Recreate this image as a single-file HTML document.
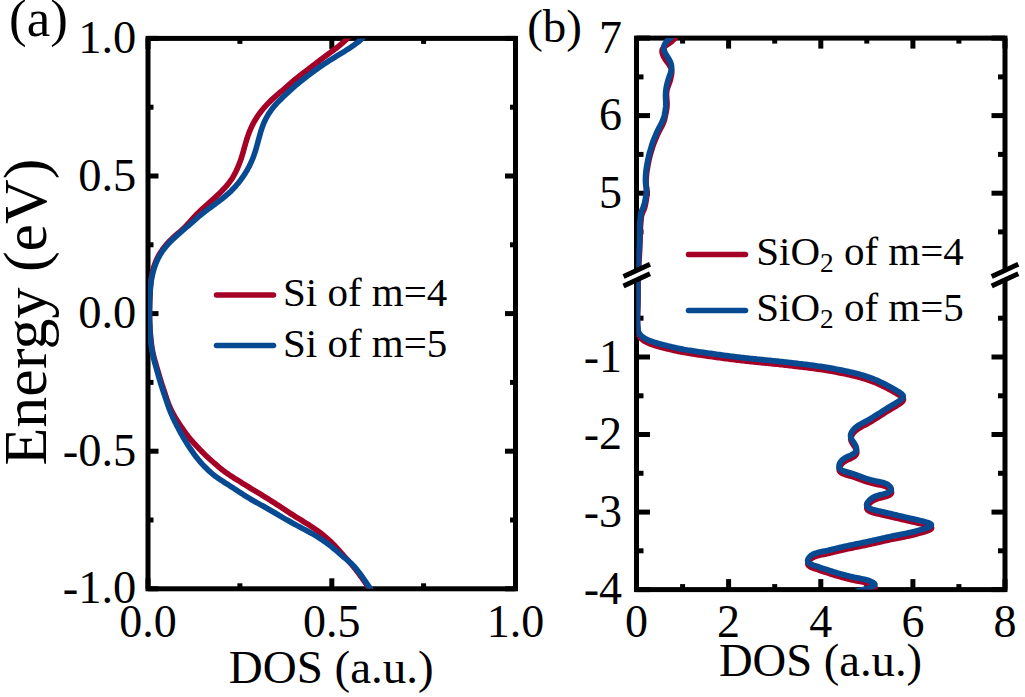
<!DOCTYPE html>
<html><head><meta charset="utf-8"><title>DOS</title>
<style>html,body{margin:0;padding:0;background:#fff;width:1025px;height:697px;overflow:hidden}svg{display:block}</style>
</head><body>
<svg width="1025" height="697" viewBox="0 0 1025 697">
<defs><clipPath id="ca"><rect x="148.0" y="38.4" width="367.5" height="550.4"/></clipPath>
<clipPath id="cbu"><rect x="636.5" y="38.1" width="368.5" height="235.6"/></clipPath>
<clipPath id="cbl"><rect x="636.5" y="276.5" width="368.5" height="313.1"/></clipPath></defs>
<rect width="1025" height="697" fill="#fff"/>
<g font-family='"Liberation Serif", serif' fill="#000">
<g stroke="#000" stroke-width="5.0" fill="none">
<rect x="148.0" y="38.4" width="367.5" height="550.4" stroke-linejoin="miter"/>
<line x1="148.0" y1="588.8" x2="148.0" y2="578.3"/><line x1="148.0" y1="38.4" x2="148.0" y2="48.9"/><line x1="331.8" y1="588.8" x2="331.8" y2="578.3"/><line x1="331.8" y1="38.4" x2="331.8" y2="48.9"/><line x1="515.5" y1="588.8" x2="515.5" y2="578.3"/><line x1="515.5" y1="38.4" x2="515.5" y2="48.9"/><line x1="239.9" y1="588.8" x2="239.9" y2="583.3"/><line x1="239.9" y1="38.4" x2="239.9" y2="43.9"/><line x1="423.6" y1="588.8" x2="423.6" y2="583.3"/><line x1="423.6" y1="38.4" x2="423.6" y2="43.9"/><line x1="148.0" y1="38.4" x2="158.5" y2="38.4"/><line x1="515.5" y1="38.4" x2="505.0" y2="38.4"/><line x1="148.0" y1="176.0" x2="158.5" y2="176.0"/><line x1="515.5" y1="176.0" x2="505.0" y2="176.0"/><line x1="148.0" y1="313.6" x2="158.5" y2="313.6"/><line x1="515.5" y1="313.6" x2="505.0" y2="313.6"/><line x1="148.0" y1="451.2" x2="158.5" y2="451.2"/><line x1="515.5" y1="451.2" x2="505.0" y2="451.2"/><line x1="148.0" y1="588.8" x2="158.5" y2="588.8"/><line x1="515.5" y1="588.8" x2="505.0" y2="588.8"/><line x1="148.0" y1="107.2" x2="153.5" y2="107.2"/><line x1="515.5" y1="107.2" x2="510.0" y2="107.2"/><line x1="148.0" y1="244.8" x2="153.5" y2="244.8"/><line x1="515.5" y1="244.8" x2="510.0" y2="244.8"/><line x1="148.0" y1="382.4" x2="153.5" y2="382.4"/><line x1="515.5" y1="382.4" x2="510.0" y2="382.4"/><line x1="148.0" y1="520.0" x2="153.5" y2="520.0"/><line x1="515.5" y1="520.0" x2="510.0" y2="520.0"/>
</g>
<g clip-path="url(#ca)" fill="none" stroke-width="5.6" stroke-linejoin="round">
<path d="M349.31,36.25 L348.32,37.34 L347.31,38.41 L346.28,39.47 L345.23,40.51 L344.15,41.53 L343.06,42.54 L341.95,43.52 L340.82,44.49 L339.67,45.44 L338.51,46.37 L337.33,47.29 L336.14,48.20 L334.95,49.10 L333.74,49.99 L332.53,50.88 L331.32,51.77 L330.11,52.65 L328.90,53.54 L327.70,54.44 L326.50,55.33 L325.30,56.23 L324.10,57.13 L322.91,58.04 L321.72,58.95 L320.53,59.85 L319.34,60.76 L318.15,61.67 L316.96,62.58 L315.77,63.49 L314.58,64.40 L313.39,65.31 L312.20,66.22 L311.01,67.13 L309.82,68.04 L308.63,68.95 L307.44,69.86 L306.25,70.76 L305.06,71.67 L303.87,72.58 L302.68,73.49 L301.49,74.40 L300.31,75.32 L299.13,76.24 L297.96,77.17 L296.79,78.10 L295.63,79.04 L294.48,80.00 L293.34,80.96 L292.20,81.94 L291.07,82.92 L289.94,83.90 L288.82,84.89 L287.69,85.88 L286.57,86.86 L285.44,87.85 L284.30,88.82 L283.16,89.79 L282.02,90.76 L280.87,91.72 L279.73,92.69 L278.58,93.65 L277.44,94.62 L276.31,95.60 L275.18,96.59 L274.07,97.58 L272.96,98.59 L271.87,99.62 L270.79,100.65 L269.72,101.70 L268.67,102.77 L267.63,103.84 L266.60,104.94 L265.60,106.04 L264.60,107.16 L263.63,108.30 L262.67,109.45 L261.73,110.62 L260.80,111.80 L259.90,112.99 L259.01,114.20 L258.14,115.42 L257.30,116.65 L256.47,117.90 L255.67,119.17 L254.90,120.45 L254.15,121.74 L253.43,123.05 L252.74,124.37 L252.07,125.71 L251.44,127.07 L250.83,128.43 L250.24,129.81 L249.67,131.19 L249.12,132.59 L248.60,133.99 L248.09,135.40 L247.60,136.81 L247.12,138.23 L246.67,139.66 L246.23,141.09 L245.80,142.52 L245.39,143.96 L244.98,145.41 L244.58,146.85 L244.18,148.29 L243.78,149.74 L243.38,151.18 L242.97,152.62 L242.56,154.06 L242.13,155.50 L241.69,156.93 L241.23,158.36 L240.76,159.78 L240.27,161.19 L239.75,162.59 L239.21,163.99 L238.65,165.38 L238.07,166.76 L237.47,168.14 L236.86,169.50 L236.22,170.86 L235.57,172.21 L234.89,173.54 L234.19,174.86 L233.47,176.17 L232.71,177.45 L231.92,178.71 L231.09,179.96 L230.23,181.18 L229.34,182.37 L228.43,183.55 L227.48,184.71 L226.52,185.86 L225.53,186.98 L224.53,188.10 L223.51,189.20 L222.48,190.28 L221.44,191.35 L220.38,192.42 L219.31,193.47 L218.24,194.51 L217.15,195.55 L216.06,196.58 L214.96,197.60 L213.86,198.62 L212.75,199.63 L211.65,200.64 L210.53,201.64 L209.42,202.64 L208.30,203.64 L207.19,204.64 L206.07,205.64 L204.96,206.64 L203.84,207.64 L202.73,208.65 L201.63,209.65 L200.53,210.67 L199.44,211.69 L198.36,212.73 L197.29,213.77 L196.23,214.83 L195.19,215.90 L194.16,216.98 L193.15,218.08 L192.14,219.19 L191.15,220.31 L190.15,221.42 L189.15,222.53 L188.14,223.64 L187.13,224.74 L186.10,225.82 L185.06,226.89 L183.99,227.93 L182.91,228.96 L181.81,229.98 L180.70,230.98 L179.58,231.98 L178.46,232.97 L177.33,233.95 L176.20,234.94 L175.08,235.93 L173.96,236.93 L172.85,237.93 L171.75,238.95 L170.67,239.99 L169.60,241.04 L168.56,242.11 L167.54,243.20 L166.56,244.32 L165.60,245.46 L164.66,246.63 L163.75,247.81 L162.87,249.02 L162.01,250.24 L161.17,251.48 L160.36,252.74 L159.58,254.01 L158.83,255.31 L158.12,256.62 L157.44,257.95 L156.79,259.30 L156.18,260.67 L155.60,262.04 L155.06,263.44 L154.55,264.85 L154.07,266.26 L153.62,267.69 L153.21,269.13 L152.82,270.58 L152.46,272.03 L152.13,273.49 L151.83,274.96 L151.55,276.43 L151.30,277.91 L151.08,279.39 L150.89,280.87 L150.72,282.36 L150.57,283.85 L150.45,285.34 L150.34,286.83 L150.24,288.33 L150.15,289.82 L150.07,291.32 L150.00,292.82 L149.94,294.31 L149.88,295.81 L149.83,297.31 L149.77,298.81 L149.73,300.30 L149.68,301.80 L149.64,303.30 L149.61,304.79 L149.58,306.29 L149.55,307.79 L149.53,309.28 L149.52,310.78 L149.52,312.28 L149.52,313.77 L149.53,315.27 L149.55,316.77 L149.57,318.27 L149.61,319.76 L149.65,321.26 L149.70,322.75 L149.77,324.25 L149.84,325.74 L149.92,327.24 L150.00,328.73 L150.10,330.23 L150.20,331.72 L150.31,333.22 L150.43,334.71 L150.56,336.20 L150.70,337.69 L150.84,339.18 L151.00,340.67 L151.17,342.16 L151.35,343.64 L151.55,345.13 L151.77,346.61 L152.01,348.08 L152.27,349.56 L152.54,351.03 L152.84,352.49 L153.16,353.95 L153.49,355.41 L153.85,356.87 L154.22,358.32 L154.60,359.76 L155.00,361.20 L155.41,362.64 L155.83,364.08 L156.25,365.52 L156.68,366.95 L157.11,368.39 L157.54,369.82 L157.97,371.26 L158.39,372.69 L158.82,374.13 L159.24,375.56 L159.66,377.00 L160.08,378.44 L160.51,379.87 L160.95,381.30 L161.39,382.73 L161.85,384.15 L162.32,385.57 L162.80,386.99 L163.28,388.40 L163.76,389.82 L164.24,391.24 L164.71,392.66 L165.18,394.08 L165.64,395.51 L166.10,396.93 L166.57,398.35 L167.04,399.77 L167.53,401.18 L168.04,402.59 L168.56,403.99 L169.11,405.38 L169.69,406.76 L170.30,408.12 L170.93,409.47 L171.58,410.82 L172.27,412.15 L172.97,413.47 L173.69,414.78 L174.44,416.07 L175.20,417.36 L175.97,418.64 L176.76,419.92 L177.56,421.19 L178.37,422.45 L179.19,423.70 L180.01,424.95 L180.84,426.20 L181.68,427.44 L182.53,428.68 L183.38,429.91 L184.24,431.14 L185.11,432.35 L186.00,433.56 L186.89,434.76 L187.80,435.94 L188.73,437.12 L189.67,438.28 L190.63,439.43 L191.60,440.56 L192.59,441.68 L193.60,442.79 L194.61,443.89 L195.63,444.99 L196.65,446.08 L197.67,447.18 L198.69,448.27 L199.72,449.36 L200.75,450.44 L201.79,451.52 L202.84,452.58 L203.90,453.64 L204.98,454.68 L206.06,455.71 L207.15,456.74 L208.24,457.76 L209.35,458.76 L210.46,459.77 L211.58,460.76 L212.70,461.75 L213.83,462.74 L214.96,463.72 L216.09,464.70 L217.23,465.68 L218.37,466.65 L219.52,467.61 L220.68,468.56 L221.84,469.49 L223.02,470.41 L224.21,471.32 L225.41,472.20 L226.63,473.07 L227.86,473.92 L229.10,474.76 L230.35,475.58 L231.60,476.40 L232.86,477.21 L234.13,478.01 L235.39,478.81 L236.66,479.61 L237.93,480.40 L239.20,481.19 L240.47,481.98 L241.75,482.77 L243.02,483.56 L244.29,484.35 L245.56,485.14 L246.84,485.93 L248.11,486.71 L249.39,487.50 L250.66,488.28 L251.94,489.05 L253.22,489.83 L254.50,490.60 L255.79,491.38 L257.07,492.15 L258.35,492.93 L259.63,493.70 L260.91,494.48 L262.19,495.26 L263.46,496.04 L264.74,496.83 L266.01,497.62 L267.28,498.41 L268.55,499.20 L269.82,500.00 L271.08,500.79 L272.35,501.60 L273.61,502.40 L274.87,503.21 L276.13,504.02 L277.39,504.83 L278.64,505.64 L279.90,506.46 L281.15,507.28 L282.40,508.11 L283.65,508.93 L284.90,509.76 L286.15,510.58 L287.40,511.40 L288.65,512.23 L289.90,513.05 L291.15,513.86 L292.41,514.67 L293.67,515.48 L294.94,516.28 L296.21,517.08 L297.48,517.87 L298.75,518.66 L300.03,519.44 L301.31,520.22 L302.58,521.00 L303.86,521.79 L305.14,522.57 L306.41,523.36 L307.68,524.15 L308.95,524.95 L310.21,525.76 L311.47,526.57 L312.72,527.39 L313.96,528.23 L315.19,529.07 L316.42,529.93 L317.64,530.80 L318.84,531.69 L320.04,532.59 L321.23,533.50 L322.40,534.43 L323.57,535.37 L324.72,536.32 L325.87,537.29 L327.00,538.27 L328.12,539.26 L329.22,540.27 L330.32,541.29 L331.40,542.33 L332.46,543.38 L333.52,544.44 L334.56,545.51 L335.59,546.59 L336.61,547.69 L337.62,548.79 L338.62,549.91 L339.62,551.03 L340.61,552.15 L341.60,553.27 L342.58,554.40 L343.58,555.52 L344.57,556.64 L345.57,557.75 L346.58,558.86 L347.58,559.98 L348.58,561.09 L349.57,562.21 L350.56,563.33 L351.54,564.46 L352.51,565.60 L353.47,566.75 L354.41,567.91 L355.35,569.08 L356.27,570.25 L357.19,571.44 L358.09,572.63 L358.98,573.83 L359.87,575.04 L360.74,576.25 L361.61,577.47 L362.47,578.69 L363.33,579.92 L364.19,581.15 L365.05,582.37 L365.91,583.60 L366.76,584.83 L367.62,586.06 L368.47,587.29 L369.32,588.52 L370.17,589.75 L371.02,590.99" stroke="#a50026"/>
<path d="M364.30,36.27 L363.24,37.30 L362.18,38.33 L361.10,39.34 L359.99,40.32 L358.87,41.28 L357.72,42.23 L356.55,43.15 L355.36,44.05 L354.16,44.93 L352.94,45.80 L351.71,46.66 L350.47,47.50 L349.22,48.32 L347.96,49.14 L346.70,49.95 L345.43,50.75 L344.15,51.54 L342.87,52.33 L341.59,53.11 L340.31,53.89 L339.03,54.67 L337.75,55.45 L336.47,56.23 L335.19,57.02 L333.92,57.80 L332.64,58.59 L331.37,59.38 L330.10,60.18 L328.84,60.98 L327.58,61.78 L326.32,62.60 L325.07,63.42 L323.83,64.25 L322.58,65.09 L321.35,65.93 L320.11,66.78 L318.88,67.63 L317.66,68.49 L316.44,69.36 L315.22,70.24 L314.01,71.11 L312.80,72.00 L311.60,72.89 L310.40,73.79 L309.20,74.69 L308.01,75.59 L306.82,76.51 L305.64,77.43 L304.46,78.35 L303.29,79.28 L302.12,80.21 L300.95,81.15 L299.79,82.10 L298.63,83.05 L297.48,84.01 L296.34,84.97 L295.20,85.94 L294.06,86.92 L292.94,87.91 L291.82,88.90 L290.70,89.90 L289.60,90.91 L288.49,91.93 L287.40,92.95 L286.30,93.97 L285.21,95.00 L284.13,96.04 L283.04,97.07 L281.96,98.11 L280.88,99.16 L279.81,100.21 L278.76,101.27 L277.71,102.34 L276.68,103.43 L275.67,104.53 L274.69,105.66 L273.73,106.80 L272.80,107.97 L271.89,109.16 L271.01,110.37 L270.16,111.60 L269.33,112.84 L268.53,114.11 L267.75,115.39 L267.01,116.68 L266.29,117.99 L265.59,119.32 L264.93,120.66 L264.31,122.02 L263.71,123.39 L263.15,124.77 L262.62,126.17 L262.12,127.58 L261.64,129.00 L261.18,130.43 L260.74,131.86 L260.32,133.30 L259.90,134.74 L259.50,136.18 L259.11,137.63 L258.71,139.08 L258.32,140.52 L257.93,141.97 L257.54,143.42 L257.15,144.86 L256.75,146.31 L256.35,147.75 L255.93,149.19 L255.50,150.62 L255.06,152.05 L254.59,153.47 L254.10,154.89 L253.59,156.30 L253.06,157.69 L252.51,159.08 L251.93,160.46 L251.33,161.84 L250.71,163.20 L250.07,164.55 L249.40,165.89 L248.71,167.22 L248.00,168.54 L247.27,169.85 L246.52,171.14 L245.75,172.43 L244.96,173.70 L244.14,174.96 L243.31,176.21 L242.47,177.44 L241.60,178.66 L240.72,179.88 L239.82,181.08 L238.90,182.26 L237.97,183.43 L237.01,184.58 L236.04,185.72 L235.05,186.84 L234.04,187.94 L233.01,189.03 L231.96,190.09 L230.89,191.14 L229.81,192.18 L228.71,193.19 L227.59,194.19 L226.46,195.18 L225.32,196.15 L224.17,197.11 L223.01,198.05 L221.84,198.98 L220.65,199.91 L219.47,200.82 L218.27,201.72 L217.07,202.62 L215.86,203.51 L214.66,204.40 L213.45,205.28 L212.24,206.17 L211.03,207.05 L209.82,207.94 L208.61,208.82 L207.41,209.72 L206.21,210.62 L205.02,211.52 L203.83,212.43 L202.65,213.35 L201.48,214.28 L200.32,215.23 L199.17,216.18 L198.03,217.15 L196.90,218.13 L195.77,219.11 L194.64,220.09 L193.52,221.08 L192.39,222.07 L191.27,223.06 L190.14,224.05 L189.02,225.04 L187.89,226.02 L186.76,227.00 L185.62,227.98 L184.49,228.96 L183.36,229.94 L182.23,230.93 L181.10,231.91 L179.97,232.89 L178.84,233.88 L177.71,234.87 L176.59,235.86 L175.47,236.86 L174.36,237.87 L173.26,238.89 L172.18,239.92 L171.10,240.97 L170.05,242.03 L169.02,243.12 L168.00,244.22 L167.01,245.34 L166.04,246.48 L165.09,247.64 L164.17,248.82 L163.27,250.01 L162.40,251.23 L161.56,252.46 L160.76,253.72 L159.98,255.00 L159.25,256.30 L158.54,257.62 L157.87,258.96 L157.24,260.31 L156.63,261.68 L156.06,263.06 L155.52,264.46 L155.00,265.87 L154.52,267.28 L154.06,268.71 L153.63,270.15 L153.22,271.59 L152.84,273.04 L152.49,274.50 L152.16,275.96 L151.86,277.42 L151.58,278.89 L151.34,280.37 L151.12,281.85 L150.93,283.33 L150.76,284.82 L150.60,286.31 L150.47,287.80 L150.34,289.30 L150.23,290.79 L150.13,292.29 L150.03,293.78 L149.95,295.28 L149.88,296.77 L149.81,298.27 L149.75,299.77 L149.69,301.26 L149.64,302.76 L149.60,304.26 L149.56,305.76 L149.53,307.25 L149.50,308.75 L149.48,310.25 L149.47,311.75 L149.46,313.24 L149.46,314.74 L149.47,316.24 L149.49,317.73 L149.51,319.23 L149.55,320.73 L149.60,322.22 L149.65,323.72 L149.71,325.22 L149.78,326.71 L149.86,328.21 L149.94,329.70 L150.03,331.20 L150.12,332.69 L150.22,334.19 L150.32,335.68 L150.43,337.18 L150.55,338.67 L150.68,340.16 L150.81,341.65 L150.96,343.14 L151.13,344.63 L151.32,346.12 L151.52,347.60 L151.75,349.08 L152.00,350.55 L152.26,352.02 L152.55,353.49 L152.85,354.96 L153.17,356.42 L153.51,357.87 L153.87,359.33 L154.24,360.78 L154.62,362.23 L155.01,363.67 L155.41,365.12 L155.82,366.56 L156.23,368.00 L156.64,369.44 L157.06,370.88 L157.47,372.32 L157.87,373.76 L158.28,375.20 L158.69,376.64 L159.10,378.08 L159.52,379.52 L159.94,380.95 L160.37,382.39 L160.81,383.82 L161.26,385.24 L161.71,386.67 L162.17,388.10 L162.63,389.52 L163.10,390.94 L163.57,392.36 L164.05,393.78 L164.53,395.20 L165.01,396.62 L165.49,398.04 L165.97,399.46 L166.45,400.87 L166.93,402.29 L167.41,403.71 L167.90,405.12 L168.40,406.53 L168.91,407.94 L169.44,409.34 L169.98,410.73 L170.53,412.12 L171.10,413.51 L171.69,414.88 L172.29,416.25 L172.91,417.62 L173.54,418.97 L174.19,420.32 L174.85,421.66 L175.52,423.00 L176.20,424.34 L176.88,425.67 L177.57,427.00 L178.26,428.33 L178.96,429.66 L179.66,430.98 L180.37,432.30 L181.09,433.61 L181.81,434.92 L182.55,436.22 L183.30,437.52 L184.06,438.81 L184.83,440.10 L185.61,441.37 L186.40,442.64 L187.20,443.91 L188.01,445.17 L188.83,446.42 L189.65,447.67 L190.48,448.92 L191.32,450.16 L192.17,451.39 L193.03,452.62 L193.90,453.84 L194.78,455.05 L195.68,456.24 L196.60,457.43 L197.53,458.60 L198.47,459.76 L199.43,460.91 L200.41,462.05 L201.40,463.17 L202.40,464.29 L203.42,465.38 L204.45,466.47 L205.50,467.54 L206.56,468.59 L207.64,469.63 L208.73,470.66 L209.84,471.66 L210.96,472.65 L212.10,473.62 L213.26,474.57 L214.43,475.50 L215.62,476.40 L216.82,477.29 L218.05,478.15 L219.28,479.00 L220.52,479.83 L221.77,480.65 L223.03,481.47 L224.29,482.28 L225.55,483.09 L226.81,483.89 L228.08,484.70 L229.34,485.51 L230.60,486.32 L231.86,487.13 L233.11,487.95 L234.37,488.76 L235.63,489.58 L236.88,490.40 L238.13,491.22 L239.39,492.04 L240.64,492.85 L241.90,493.67 L243.15,494.49 L244.41,495.30 L245.67,496.10 L246.94,496.90 L248.21,497.69 L249.49,498.46 L250.78,499.23 L252.07,499.98 L253.37,500.72 L254.67,501.45 L255.98,502.18 L257.29,502.90 L258.60,503.63 L259.91,504.35 L261.22,505.08 L262.53,505.81 L263.83,506.55 L265.13,507.29 L266.43,508.03 L267.73,508.77 L269.03,509.52 L270.33,510.27 L271.62,511.02 L272.92,511.77 L274.21,512.53 L275.50,513.28 L276.80,514.04 L278.09,514.79 L279.38,515.55 L280.68,516.30 L281.97,517.05 L283.27,517.81 L284.56,518.56 L285.86,519.31 L287.16,520.05 L288.46,520.79 L289.76,521.53 L291.07,522.27 L292.37,523.00 L293.68,523.72 L295.00,524.44 L296.31,525.15 L297.63,525.86 L298.96,526.57 L300.28,527.27 L301.60,527.97 L302.93,528.67 L304.25,529.37 L305.57,530.08 L306.89,530.78 L308.21,531.50 L309.52,532.21 L310.83,532.94 L312.14,533.68 L313.44,534.42 L314.73,535.17 L316.01,535.94 L317.29,536.72 L318.56,537.51 L319.83,538.32 L321.08,539.14 L322.32,539.97 L323.56,540.81 L324.79,541.67 L326.01,542.54 L327.21,543.42 L328.41,544.32 L329.60,545.23 L330.77,546.16 L331.94,547.10 L333.10,548.04 L334.25,549.00 L335.40,549.97 L336.54,550.94 L337.68,551.91 L338.82,552.89 L339.95,553.87 L341.09,554.84 L342.23,555.82 L343.37,556.79 L344.51,557.75 L345.66,558.71 L346.81,559.67 L347.96,560.63 L349.09,561.60 L350.21,562.59 L351.31,563.59 L352.38,564.63 L353.42,565.69 L354.44,566.78 L355.42,567.90 L356.38,569.04 L357.32,570.20 L358.24,571.37 L359.14,572.56 L360.04,573.77 L360.91,574.98 L361.78,576.20 L362.65,577.43 L363.50,578.66 L364.36,579.89 L365.21,581.12 L366.06,582.36 L366.91,583.59 L367.77,584.82 L368.62,586.06 L369.47,587.29 L370.32,588.52 L371.17,589.76 L372.02,590.99" stroke="#084a92"/>
</g>
<text x="136.3" y="52.9" font-size="46.5" text-anchor="end" >1.0</text>
<text x="136.3" y="190.5" font-size="46.5" text-anchor="end" >0.5</text>
<text x="136.3" y="328.1" font-size="46.5" text-anchor="end" >0.0</text>
<text x="136.3" y="465.7" font-size="46.5" text-anchor="end" >-0.5</text>
<text x="136.3" y="603.3" font-size="46.5" text-anchor="end" >-1.0</text>
<text x="148.0" y="637.0" font-size="46.0" text-anchor="middle" >0.0</text>
<text x="331.8" y="637.0" font-size="46.0" text-anchor="middle" >0.5</text>
<text x="515.5" y="637.0" font-size="46.0" text-anchor="middle" >1.0</text>
<text x="331.3" y="682.7" font-size="47.0" text-anchor="middle" >DOS (a.u.)</text>
<text x="0.0" y="0.0" font-size="62.0" text-anchor="middle" transform="translate(46.3,312) rotate(-90)">Energy (eV)</text>
<text x="9.0" y="36.0" font-size="53.0" text-anchor="start" >(a)</text>
<g stroke-width="5.5" stroke-linecap="round">
<line x1="216.5" y1="295.1" x2="273.5" y2="295.1" stroke="#a50026"/>
<line x1="216.5" y1="345.4" x2="273.5" y2="345.4" stroke="#084a92"/>
</g>
<text x="283.0" y="306.2" font-size="41.0" text-anchor="start" >Si of m=4</text>
<text x="283.0" y="357.0" font-size="41.0" text-anchor="start" >Si of m=5</text>
<g stroke="#000" stroke-width="5.0" fill="none">
<rect x="636.5" y="38.1" width="368.5" height="551.5" stroke-linejoin="miter"/>
<line x1="636.5" y1="589.6" x2="636.5" y2="579.1"/><line x1="636.5" y1="38.1" x2="636.5" y2="48.6"/><line x1="728.6" y1="589.6" x2="728.6" y2="579.1"/><line x1="728.6" y1="38.1" x2="728.6" y2="48.6"/><line x1="820.8" y1="589.6" x2="820.8" y2="579.1"/><line x1="820.8" y1="38.1" x2="820.8" y2="48.6"/><line x1="912.9" y1="589.6" x2="912.9" y2="579.1"/><line x1="912.9" y1="38.1" x2="912.9" y2="48.6"/><line x1="1005.0" y1="589.6" x2="1005.0" y2="579.1"/><line x1="1005.0" y1="38.1" x2="1005.0" y2="48.6"/><line x1="682.6" y1="589.6" x2="682.6" y2="584.1"/><line x1="682.6" y1="38.1" x2="682.6" y2="43.6"/><line x1="774.7" y1="589.6" x2="774.7" y2="584.1"/><line x1="774.7" y1="38.1" x2="774.7" y2="43.6"/><line x1="866.8" y1="589.6" x2="866.8" y2="584.1"/><line x1="866.8" y1="38.1" x2="866.8" y2="43.6"/><line x1="958.9" y1="589.6" x2="958.9" y2="584.1"/><line x1="958.9" y1="38.1" x2="958.9" y2="43.6"/><line x1="636.5" y1="38.1" x2="650.0" y2="38.1"/><line x1="1005.0" y1="38.1" x2="991.5" y2="38.1"/><line x1="636.5" y1="115.6" x2="650.0" y2="115.6"/><line x1="1005.0" y1="115.6" x2="991.5" y2="115.6"/><line x1="636.5" y1="193.2" x2="650.0" y2="193.2"/><line x1="1005.0" y1="193.2" x2="991.5" y2="193.2"/><line x1="636.5" y1="357.0" x2="650.0" y2="357.0"/><line x1="1005.0" y1="357.0" x2="991.5" y2="357.0"/><line x1="636.5" y1="434.5" x2="650.0" y2="434.5"/><line x1="1005.0" y1="434.5" x2="991.5" y2="434.5"/><line x1="636.5" y1="512.1" x2="650.0" y2="512.1"/><line x1="1005.0" y1="512.1" x2="991.5" y2="512.1"/><line x1="636.5" y1="589.6" x2="650.0" y2="589.6"/><line x1="1005.0" y1="589.6" x2="991.5" y2="589.6"/><line x1="636.5" y1="76.9" x2="643.5" y2="76.9"/><line x1="1005.0" y1="76.9" x2="998.0" y2="76.9"/><line x1="636.5" y1="154.4" x2="643.5" y2="154.4"/><line x1="1005.0" y1="154.4" x2="998.0" y2="154.4"/><line x1="636.5" y1="231.9" x2="643.5" y2="231.9"/><line x1="1005.0" y1="231.9" x2="998.0" y2="231.9"/><line x1="636.5" y1="318.2" x2="643.5" y2="318.2"/><line x1="1005.0" y1="318.2" x2="998.0" y2="318.2"/><line x1="636.5" y1="395.8" x2="643.5" y2="395.8"/><line x1="1005.0" y1="395.8" x2="998.0" y2="395.8"/><line x1="636.5" y1="473.3" x2="643.5" y2="473.3"/><line x1="1005.0" y1="473.3" x2="998.0" y2="473.3"/><line x1="636.5" y1="550.8" x2="643.5" y2="550.8"/><line x1="1005.0" y1="550.8" x2="998.0" y2="550.8"/>
</g>
<g fill="none" stroke-width="5.8" stroke-linejoin="round">
<g clip-path="url(#cbu)"><path d="M677.02,35.02 L676.17,36.24 L675.29,37.45 L674.37,38.61 L673.38,39.72 L672.32,40.77 L671.20,41.76 L670.02,42.69 L668.78,43.56 L667.50,44.39 L666.23,45.22 L665.01,46.12 L663.93,47.12 L663.02,48.27 L662.40,49.55 L662.13,50.94 L662.21,52.40 L662.56,53.87 L663.09,55.30 L663.74,56.67 L664.47,57.99 L665.29,59.26 L666.15,60.50 L667.04,61.72 L667.94,62.93 L668.81,64.16 L669.63,65.41 L670.36,66.71 L670.97,68.06 L671.43,69.46 L671.67,70.90 L671.68,72.37 L671.51,73.84 L671.25,75.32 L670.96,76.81 L670.68,78.28 L670.35,79.73 L669.94,81.16 L669.45,82.57 L668.91,83.96 L668.37,85.36 L667.85,86.76 L667.38,88.18 L666.99,89.61 L666.71,91.07 L666.53,92.54 L666.45,94.03 L666.45,95.53 L666.51,97.03 L666.61,98.52 L666.74,100.02 L666.85,101.51 L666.94,102.99 L666.97,104.48 L666.92,105.96 L666.79,107.43 L666.60,108.91 L666.35,110.38 L666.07,111.85 L665.77,113.32 L665.47,114.80 L665.17,116.27 L664.86,117.73 L664.52,119.18 L664.12,120.62 L663.65,122.02 L663.10,123.40 L662.48,124.75 L661.81,126.08 L661.10,127.41 L660.39,128.72 L659.69,130.04 L659.00,131.37 L658.34,132.70 L657.70,134.05 L657.08,135.40 L656.49,136.77 L655.92,138.15 L655.35,139.53 L654.78,140.91 L654.21,142.29 L653.66,143.67 L653.14,145.07 L652.67,146.48 L652.23,147.91 L651.81,149.34 L651.40,150.77 L650.97,152.20 L650.54,153.63 L650.12,155.06 L649.73,156.50 L649.37,157.95 L649.04,159.40 L648.73,160.86 L648.44,162.32 L648.15,163.79 L647.87,165.25 L647.60,166.72 L647.34,168.19 L647.10,169.66 L646.88,171.13 L646.68,172.61 L646.50,174.09 L646.36,175.58 L646.24,177.07 L646.14,178.55 L646.07,180.05 L646.03,181.54 L646.02,183.03 L646.08,184.52 L646.21,186.00 L646.42,187.48 L646.64,188.96 L646.84,190.43 L646.94,191.91 L646.94,193.39 L646.84,194.88 L646.68,196.36 L646.47,197.85 L646.25,199.32 L646.01,200.80 L645.75,202.27 L645.47,203.74 L645.17,205.20 L644.82,206.65 L644.41,208.08 L643.91,209.49 L643.32,210.86 L642.69,212.21 L642.11,213.58 L641.65,214.97 L641.34,216.41 L641.15,217.89 L641.02,219.38 L640.90,220.87 L640.77,222.36 L640.63,223.85 L640.49,225.34 L640.38,226.82 L640.30,228.31 L640.25,229.80 L640.21,231.29 L640.18,232.78 L640.14,234.27 L640.11,235.77 L640.08,237.26 L640.04,238.75 L640.00,240.24 L639.96,241.73 L639.91,243.22 L639.85,244.71 L639.78,246.20 L639.71,247.69 L639.63,249.18 L639.55,250.67 L639.46,252.16 L639.38,253.64 L639.29,255.13 L639.21,256.62 L639.12,258.11 L639.04,259.60 L638.96,261.09 L638.89,262.58 L638.81,264.07 L638.74,265.56 L638.68,267.05 L638.62,268.54 L638.56,270.03 L638.50,271.52 L638.45,273.01 L638.40,274.50" stroke="#a50026"/><path d="M673.99,34.99 L672.81,35.88 L671.64,36.79 L670.47,37.73 L669.33,38.72 L668.22,39.77 L667.14,40.89 L666.13,42.08 L665.24,43.34 L664.52,44.66 L664.01,46.02 L663.77,47.42 L663.81,48.85 L664.10,50.30 L664.59,51.73 L665.23,53.14 L665.97,54.51 L666.76,55.82 L667.57,57.10 L668.38,58.37 L669.16,59.64 L669.86,60.95 L670.47,62.31 L670.97,63.73 L671.33,65.19 L671.54,66.67 L671.58,68.16 L671.45,69.63 L671.16,71.08 L670.74,72.51 L670.26,73.94 L669.74,75.36 L669.23,76.78 L668.74,78.20 L668.29,79.62 L667.86,81.05 L667.46,82.49 L667.09,83.93 L666.75,85.39 L666.45,86.85 L666.18,88.32 L665.97,89.80 L665.80,91.28 L665.69,92.77 L665.62,94.26 L665.59,95.76 L665.61,97.25 L665.67,98.75 L665.75,100.24 L665.82,101.73 L665.87,103.22 L665.87,104.71 L665.79,106.20 L665.66,107.68 L665.47,109.17 L665.25,110.65 L665.00,112.13 L664.73,113.60 L664.43,115.07 L664.09,116.53 L663.69,117.96 L663.21,119.37 L662.66,120.75 L662.04,122.11 L661.37,123.44 L660.68,124.77 L659.97,126.09 L659.26,127.41 L658.57,128.73 L657.90,130.06 L657.26,131.41 L656.64,132.77 L656.05,134.14 L655.47,135.52 L654.90,136.90 L654.33,138.28 L653.76,139.66 L653.21,141.04 L652.69,142.44 L652.21,143.85 L651.77,145.28 L651.35,146.71 L650.93,148.15 L650.51,149.58 L650.08,151.01 L649.66,152.44 L649.26,153.88 L648.89,155.33 L648.56,156.78 L648.26,158.24 L647.96,159.71 L647.68,161.17 L647.39,162.64 L647.12,164.11 L646.86,165.58 L646.61,167.05 L646.39,168.53 L646.19,170.01 L646.02,171.49 L645.87,172.97 L645.75,174.46 L645.65,175.95 L645.58,177.45 L645.53,178.94 L645.52,180.43 L645.57,181.92 L645.70,183.41 L645.90,184.89 L646.13,186.37 L646.33,187.84 L646.44,189.32 L646.44,190.81 L646.35,192.29 L646.19,193.78 L645.99,195.27 L645.77,196.75 L645.53,198.22 L645.27,199.69 L644.99,201.16 L644.69,202.63 L644.34,204.08 L643.93,205.52 L643.43,206.92 L642.84,208.29 L642.22,209.65 L641.64,211.02 L641.16,212.41 L640.85,213.85 L640.66,215.33 L640.53,216.82 L640.41,218.32 L640.27,219.81 L640.13,221.30 L639.99,222.78 L639.88,224.27 L639.81,225.76 L639.75,227.25 L639.71,228.75 L639.68,230.24 L639.65,231.73 L639.61,233.22 L639.58,234.72 L639.55,236.21 L639.51,237.70 L639.46,239.19 L639.41,240.69 L639.35,242.18 L639.28,243.67 L639.21,245.16 L639.13,246.65 L639.05,248.14 L638.97,249.63 L638.88,251.12 L638.79,252.61 L638.71,254.10 L638.62,255.59 L638.54,257.09 L638.46,258.58 L638.39,260.07 L638.31,261.56 L638.24,263.05 L638.18,264.54 L638.12,266.03 L638.06,267.52 L638.00,269.02 L637.95,270.51 L637.90,272.00" stroke="#084a92"/></g>
<g clip-path="url(#cbl)"><path d="M637.90,280.00 L637.92,281.50 L637.93,283.00 L637.95,284.50 L637.96,286.00 L637.98,287.50 L637.99,288.99 L637.99,290.49 L638.00,291.99 L638.00,293.49 L638.00,294.99 L637.99,296.48 L637.98,297.98 L637.96,299.48 L637.94,300.97 L637.91,302.47 L637.87,303.96 L637.83,305.46 L637.79,306.95 L637.74,308.44 L637.69,309.94 L637.65,311.43 L637.60,312.92 L637.56,314.42 L637.53,315.91 L637.51,317.41 L637.49,318.91 L637.49,320.41 L637.50,321.91 L637.52,323.41 L637.56,324.92 L637.62,326.42 L637.70,327.93 L637.80,329.44 L637.93,330.96 L638.12,332.46 L638.43,333.91 L638.93,335.30 L639.64,336.60 L640.53,337.79 L641.57,338.88 L642.71,339.85 L643.94,340.72 L645.23,341.50 L646.57,342.21 L647.93,342.85 L649.31,343.44 L650.71,343.99 L652.12,344.50 L653.54,344.98 L654.97,345.43 L656.40,345.87 L657.84,346.29 L659.28,346.70 L660.73,347.10 L662.17,347.48 L663.62,347.86 L665.07,348.23 L666.53,348.59 L667.98,348.95 L669.44,349.30 L670.90,349.66 L672.35,350.00 L673.81,350.35 L675.27,350.68 L676.73,351.01 L678.20,351.33 L679.66,351.63 L681.13,351.93 L682.60,352.22 L684.07,352.49 L685.55,352.75 L687.02,353.00 L688.50,353.24 L689.98,353.47 L691.46,353.70 L692.94,353.92 L694.43,354.14 L695.91,354.36 L697.39,354.57 L698.87,354.79 L700.36,355.00 L701.84,355.22 L703.32,355.43 L704.80,355.64 L706.29,355.86 L707.77,356.07 L709.25,356.28 L710.74,356.49 L712.22,356.70 L713.70,356.90 L715.18,357.11 L716.67,357.32 L718.15,357.52 L719.64,357.72 L721.12,357.92 L722.60,358.12 L724.09,358.32 L725.57,358.52 L727.06,358.71 L728.54,358.90 L730.03,359.09 L731.52,359.28 L733.00,359.47 L734.49,359.65 L735.97,359.83 L737.46,360.01 L738.95,360.19 L740.44,360.37 L741.92,360.54 L743.41,360.71 L744.90,360.88 L746.39,361.05 L747.88,361.21 L749.37,361.37 L750.86,361.53 L752.35,361.69 L753.84,361.84 L755.33,361.99 L756.82,362.14 L758.31,362.29 L759.80,362.44 L761.29,362.59 L762.78,362.74 L764.27,362.89 L765.76,363.03 L767.25,363.18 L768.74,363.33 L770.23,363.47 L771.72,363.62 L773.21,363.77 L774.70,363.93 L776.19,364.08 L777.68,364.23 L779.17,364.39 L780.66,364.55 L782.15,364.71 L783.64,364.88 L785.13,365.04 L786.61,365.21 L788.10,365.38 L789.59,365.55 L791.08,365.72 L792.56,365.90 L794.05,366.07 L795.54,366.25 L797.03,366.42 L798.51,366.60 L800.00,366.78 L801.49,366.95 L802.98,367.13 L804.46,367.31 L805.95,367.49 L807.44,367.67 L808.92,367.86 L810.41,368.05 L811.89,368.24 L813.38,368.44 L814.86,368.64 L816.35,368.84 L817.83,369.06 L819.31,369.27 L820.79,369.49 L822.27,369.72 L823.75,369.95 L825.23,370.19 L826.71,370.43 L828.19,370.68 L829.66,370.93 L831.14,371.19 L832.61,371.45 L834.09,371.71 L835.56,371.98 L837.03,372.26 L838.50,372.54 L839.97,372.83 L841.44,373.12 L842.91,373.42 L844.38,373.72 L845.85,374.03 L847.31,374.35 L848.77,374.67 L850.24,375.00 L851.70,375.34 L853.15,375.69 L854.61,376.04 L856.06,376.40 L857.51,376.78 L858.95,377.16 L860.40,377.55 L861.83,377.95 L863.27,378.37 L864.70,378.80 L866.13,379.25 L867.55,379.72 L868.98,380.20 L870.39,380.71 L871.81,381.23 L873.22,381.78 L874.63,382.34 L876.03,382.93 L877.42,383.53 L878.80,384.15 L880.17,384.78 L881.52,385.42 L882.86,386.07 L884.18,386.72 L885.49,387.38 L886.77,388.04 L888.03,388.71 L889.29,389.38 L890.55,390.07 L891.83,390.78 L893.13,391.51 L894.46,392.28 L895.84,393.08 L897.28,393.92 L898.78,394.81 L900.27,395.74 L901.61,396.72 L902.67,397.73 L903.31,398.78 L903.38,399.85 L902.86,400.94 L901.89,402.01 L900.64,403.04 L899.28,404.01 L897.92,404.89 L896.60,405.70 L895.30,406.47 L894.02,407.22 L892.74,407.97 L891.46,408.73 L890.19,409.50 L888.92,410.28 L887.65,411.07 L886.38,411.87 L885.11,412.67 L883.85,413.48 L882.58,414.28 L881.31,415.09 L880.05,415.90 L878.78,416.70 L877.51,417.51 L876.24,418.30 L874.96,419.09 L873.68,419.88 L872.40,420.66 L871.12,421.42 L869.82,422.18 L868.53,422.93 L867.22,423.66 L865.92,424.38 L864.60,425.09 L863.28,425.78 L861.96,426.48 L860.65,427.19 L859.35,427.95 L858.09,428.76 L856.85,429.64 L855.66,430.61 L854.52,431.68 L853.44,432.87 L852.48,434.14 L851.70,435.48 L851.13,436.84 L850.84,438.22 L850.87,439.57 L851.23,440.89 L851.83,442.20 L852.61,443.51 L853.48,444.83 L854.38,446.20 L855.22,447.61 L855.93,449.07 L856.45,450.55 L856.69,451.98 L856.61,453.30 L856.13,454.48 L855.30,455.52 L854.19,456.45 L852.87,457.28 L851.41,458.04 L849.86,458.76 L848.32,459.46 L846.83,460.17 L845.41,460.92 L844.10,461.72 L842.89,462.62 L841.81,463.63 L840.86,464.80 L840.08,466.12 L839.51,467.55 L839.23,468.98 L839.31,470.30 L839.82,471.43 L840.70,472.37 L841.88,473.16 L843.30,473.82 L844.88,474.39 L846.56,474.89 L848.25,475.37 L849.89,475.84 L851.46,476.32 L852.97,476.81 L854.43,477.31 L855.85,477.81 L857.23,478.31 L858.58,478.81 L859.92,479.31 L861.25,479.80 L862.59,480.28 L863.93,480.75 L865.30,481.21 L866.68,481.65 L868.08,482.09 L869.50,482.50 L870.94,482.91 L872.40,483.29 L873.89,483.66 L875.40,484.01 L876.93,484.34 L878.50,484.65 L880.07,484.95 L881.64,485.28 L883.18,485.65 L884.68,486.09 L886.11,486.63 L887.44,487.29 L888.67,488.10 L889.76,489.08 L890.69,490.24 L891.31,491.47 L891.46,492.64 L891.06,493.66 L890.20,494.53 L888.96,495.29 L887.44,495.93 L885.74,496.50 L883.95,497.00 L882.16,497.45 L880.47,497.88 L878.87,498.31 L877.37,498.75 L875.94,499.24 L874.59,499.80 L873.30,500.44 L872.06,501.21 L870.85,502.11 L869.68,503.17 L868.59,504.36 L867.69,505.62 L867.07,506.87 L866.85,508.04 L867.09,509.08 L867.74,509.99 L868.76,510.80 L870.07,511.50 L871.62,512.11 L873.33,512.66 L875.16,513.15 L877.03,513.60 L878.89,514.02 L880.69,514.43 L882.41,514.82 L884.07,515.20 L885.67,515.57 L887.22,515.92 L888.72,516.27 L890.17,516.61 L891.58,516.94 L892.96,517.26 L894.31,517.58 L895.63,517.89 L896.93,518.19 L898.22,518.49 L899.49,518.79 L900.77,519.08 L902.04,519.38 L903.32,519.67 L904.61,519.97 L905.93,520.27 L907.28,520.58 L908.66,520.89 L910.09,521.22 L911.58,521.56 L913.13,521.91 L914.74,522.28 L916.43,522.67 L918.21,523.08 L920.07,523.51 L922.00,523.97 L923.92,524.44 L925.76,524.94 L927.47,525.45 L928.97,525.99 L930.19,526.54 L931.06,527.12 L931.52,527.70 L931.51,528.31 L931.01,528.92 L930.11,529.55 L928.87,530.17 L927.36,530.78 L925.65,531.38 L923.81,531.97 L921.91,532.53 L920.03,533.06 L918.21,533.55 L916.46,534.01 L914.78,534.44 L913.15,534.84 L911.58,535.22 L910.05,535.57 L908.57,535.90 L907.12,536.22 L905.71,536.52 L904.33,536.80 L902.96,537.07 L901.62,537.34 L900.29,537.60 L898.97,537.86 L897.65,538.12 L896.33,538.37 L895.00,538.64 L893.65,538.91 L892.30,539.19 L890.92,539.48 L889.52,539.78 L888.11,540.08 L886.69,540.40 L885.25,540.72 L883.80,541.04 L882.34,541.37 L880.87,541.71 L879.39,542.05 L877.91,542.38 L876.41,542.72 L874.92,543.06 L873.42,543.40 L871.92,543.74 L870.41,544.08 L868.91,544.41 L867.41,544.74 L865.91,545.06 L864.42,545.38 L862.93,545.69 L861.44,546.00 L859.96,546.31 L858.48,546.61 L857.00,546.91 L855.53,547.21 L854.06,547.51 L852.59,547.81 L851.13,548.11 L849.67,548.41 L848.22,548.72 L846.77,549.03 L845.32,549.34 L843.87,549.66 L842.43,549.99 L840.99,550.32 L839.56,550.66 L838.12,551.00 L836.69,551.35 L835.25,551.70 L833.82,552.06 L832.37,552.41 L830.92,552.76 L829.46,553.11 L828.00,553.45 L826.51,553.78 L825.02,554.10 L823.51,554.41 L821.98,554.71 L820.44,555.02 L818.91,555.34 L817.41,555.72 L815.93,556.16 L814.51,556.69 L813.15,557.34 L811.86,558.12 L810.66,559.06 L809.58,560.18 L808.67,561.44 L808.07,562.73 L807.91,563.95 L808.28,565.03 L809.12,565.96 L810.33,566.78 L811.81,567.51 L813.46,568.15 L815.19,568.75 L816.90,569.31 L818.55,569.86 L820.14,570.39 L821.68,570.90 L823.18,571.40 L824.63,571.88 L826.05,572.35 L827.44,572.80 L828.81,573.25 L830.15,573.69 L831.49,574.12 L832.82,574.54 L834.15,574.95 L835.49,575.36 L836.83,575.77 L838.19,576.18 L839.58,576.58 L840.97,576.97 L842.39,577.37 L843.82,577.76 L845.26,578.14 L846.72,578.52 L848.18,578.89 L849.65,579.25 L851.13,579.60 L852.61,579.94 L854.10,580.27 L855.59,580.59 L857.08,580.89 L858.57,581.19 L860.06,581.46 L861.54,581.74 L863.02,582.02 L864.50,582.33 L865.97,582.68 L867.44,583.08 L868.90,583.56 L870.37,584.13 L871.83,584.79 L873.25,585.57 L874.40,586.42 L875.02,587.30 L874.85,588.15 L873.98,588.96 L872.63,589.71 L871.01,590.37 L869.36,590.95 L867.78,591.43 L866.28,591.84 L864.83,592.21 L863.40,592.57 L861.97,592.94 L860.53,593.31 L859.09,593.70 L857.65,594.10 L856.20,594.50" stroke="#a50026"/><path d="M637.70,277.00 L637.72,278.50 L637.73,280.00 L637.75,281.50 L637.76,283.00 L637.78,284.50 L637.79,285.99 L637.79,287.49 L637.80,288.99 L637.80,290.49 L637.80,291.99 L637.79,293.48 L637.78,294.98 L637.76,296.48 L637.74,297.97 L637.71,299.47 L637.67,300.96 L637.63,302.46 L637.59,303.95 L637.54,305.44 L637.49,306.94 L637.45,308.43 L637.40,309.92 L637.36,311.42 L637.33,312.91 L637.31,314.41 L637.29,315.91 L637.29,317.41 L637.30,318.91 L637.32,320.41 L637.36,321.92 L637.42,323.42 L637.50,324.93 L637.60,326.44 L637.73,327.96 L637.92,329.46 L638.23,330.91 L638.73,332.30 L639.44,333.60 L640.33,334.79 L641.37,335.88 L642.51,336.85 L643.74,337.72 L645.03,338.50 L646.37,339.21 L647.73,339.85 L649.11,340.44 L650.51,340.99 L651.92,341.50 L653.34,341.98 L654.77,342.43 L656.20,342.87 L657.64,343.29 L659.08,343.70 L660.53,344.10 L661.97,344.48 L663.42,344.86 L664.87,345.23 L666.33,345.59 L667.78,345.95 L669.24,346.30 L670.70,346.66 L672.15,347.00 L673.61,347.35 L675.07,347.68 L676.53,348.01 L678.00,348.33 L679.46,348.63 L680.93,348.93 L682.40,349.22 L683.87,349.49 L685.35,349.75 L686.82,350.00 L688.30,350.24 L689.78,350.47 L691.26,350.70 L692.74,350.92 L694.23,351.14 L695.71,351.36 L697.19,351.57 L698.67,351.79 L700.16,352.00 L701.64,352.22 L703.12,352.43 L704.60,352.64 L706.09,352.86 L707.57,353.07 L709.05,353.28 L710.54,353.49 L712.02,353.70 L713.50,353.90 L714.98,354.11 L716.47,354.32 L717.95,354.52 L719.44,354.72 L720.92,354.92 L722.40,355.12 L723.89,355.32 L725.37,355.52 L726.86,355.71 L728.34,355.90 L729.83,356.09 L731.32,356.28 L732.80,356.47 L734.29,356.65 L735.77,356.83 L737.26,357.01 L738.75,357.19 L740.24,357.37 L741.72,357.54 L743.21,357.71 L744.70,357.88 L746.19,358.05 L747.68,358.21 L749.17,358.37 L750.66,358.53 L752.15,358.69 L753.64,358.84 L755.13,358.99 L756.62,359.14 L758.11,359.29 L759.60,359.44 L761.09,359.59 L762.58,359.74 L764.07,359.89 L765.56,360.03 L767.05,360.18 L768.54,360.33 L770.03,360.47 L771.52,360.62 L773.01,360.77 L774.50,360.93 L775.99,361.08 L777.48,361.23 L778.97,361.39 L780.46,361.55 L781.95,361.71 L783.44,361.88 L784.93,362.04 L786.41,362.21 L787.90,362.38 L789.39,362.55 L790.88,362.72 L792.36,362.90 L793.85,363.07 L795.34,363.25 L796.83,363.42 L798.31,363.60 L799.80,363.78 L801.29,363.95 L802.78,364.13 L804.26,364.31 L805.75,364.49 L807.24,364.67 L808.72,364.86 L810.21,365.05 L811.69,365.24 L813.18,365.44 L814.66,365.64 L816.15,365.84 L817.63,366.06 L819.11,366.27 L820.59,366.49 L822.07,366.72 L823.55,366.95 L825.03,367.19 L826.51,367.43 L827.99,367.68 L829.46,367.93 L830.94,368.19 L832.41,368.45 L833.89,368.71 L835.36,368.98 L836.83,369.26 L838.30,369.54 L839.77,369.83 L841.24,370.12 L842.71,370.42 L844.18,370.72 L845.65,371.03 L847.11,371.35 L848.57,371.67 L850.04,372.00 L851.50,372.34 L852.95,372.69 L854.41,373.04 L855.86,373.40 L857.31,373.78 L858.75,374.16 L860.20,374.55 L861.63,374.95 L863.07,375.37 L864.50,375.80 L865.93,376.25 L867.35,376.72 L868.78,377.20 L870.19,377.71 L871.61,378.23 L873.02,378.78 L874.43,379.34 L875.83,379.93 L877.22,380.53 L878.60,381.15 L879.97,381.78 L881.32,382.42 L882.66,383.07 L883.98,383.72 L885.29,384.38 L886.57,385.04 L887.83,385.71 L889.09,386.38 L890.35,387.07 L891.63,387.78 L892.93,388.51 L894.26,389.28 L895.64,390.08 L897.08,390.92 L898.58,391.81 L900.07,392.74 L901.41,393.72 L902.47,394.73 L903.11,395.78 L903.18,396.85 L902.66,397.94 L901.69,399.01 L900.44,400.04 L899.08,401.01 L897.72,401.89 L896.40,402.70 L895.10,403.47 L893.82,404.22 L892.54,404.97 L891.26,405.73 L889.99,406.50 L888.72,407.28 L887.45,408.07 L886.18,408.87 L884.91,409.67 L883.65,410.48 L882.38,411.28 L881.11,412.09 L879.85,412.90 L878.58,413.70 L877.31,414.51 L876.04,415.30 L874.76,416.09 L873.48,416.88 L872.20,417.66 L870.92,418.42 L869.62,419.18 L868.33,419.93 L867.02,420.66 L865.72,421.38 L864.40,422.09 L863.08,422.78 L861.76,423.48 L860.45,424.19 L859.15,424.95 L857.89,425.76 L856.65,426.64 L855.46,427.61 L854.32,428.68 L853.24,429.87 L852.28,431.14 L851.50,432.48 L850.93,433.84 L850.64,435.22 L850.67,436.57 L851.03,437.89 L851.63,439.20 L852.41,440.51 L853.28,441.83 L854.18,443.20 L855.02,444.61 L855.73,446.07 L856.25,447.55 L856.49,448.98 L856.41,450.30 L855.93,451.48 L855.10,452.52 L853.99,453.45 L852.67,454.28 L851.21,455.04 L849.66,455.76 L848.12,456.46 L846.63,457.17 L845.21,457.92 L843.90,458.72 L842.69,459.62 L841.61,460.63 L840.66,461.80 L839.88,463.12 L839.31,464.55 L839.03,465.98 L839.11,467.30 L839.62,468.43 L840.50,469.37 L841.68,470.16 L843.10,470.82 L844.68,471.39 L846.36,471.89 L848.05,472.37 L849.69,472.84 L851.26,473.32 L852.77,473.81 L854.23,474.31 L855.65,474.81 L857.03,475.31 L858.38,475.81 L859.72,476.31 L861.05,476.80 L862.39,477.28 L863.73,477.75 L865.10,478.21 L866.48,478.65 L867.88,479.09 L869.30,479.50 L870.74,479.91 L872.20,480.29 L873.69,480.66 L875.20,481.01 L876.73,481.34 L878.30,481.65 L879.87,481.95 L881.44,482.28 L882.98,482.65 L884.48,483.09 L885.91,483.63 L887.24,484.29 L888.47,485.10 L889.56,486.08 L890.49,487.24 L891.11,488.47 L891.26,489.64 L890.86,490.66 L890.00,491.53 L888.76,492.29 L887.24,492.93 L885.54,493.50 L883.75,494.00 L881.96,494.45 L880.27,494.88 L878.67,495.31 L877.17,495.75 L875.74,496.24 L874.39,496.80 L873.10,497.44 L871.86,498.21 L870.65,499.11 L869.48,500.17 L868.39,501.36 L867.49,502.62 L866.87,503.87 L866.65,505.04 L866.89,506.08 L867.54,506.99 L868.56,507.80 L869.87,508.50 L871.42,509.11 L873.13,509.66 L874.96,510.15 L876.83,510.60 L878.69,511.02 L880.49,511.43 L882.21,511.82 L883.87,512.20 L885.47,512.57 L887.02,512.92 L888.52,513.27 L889.97,513.61 L891.38,513.94 L892.76,514.26 L894.11,514.58 L895.43,514.89 L896.73,515.19 L898.02,515.49 L899.29,515.79 L900.57,516.08 L901.84,516.38 L903.12,516.67 L904.41,516.97 L905.73,517.27 L907.08,517.58 L908.46,517.89 L909.89,518.22 L911.38,518.56 L912.93,518.91 L914.54,519.28 L916.23,519.67 L918.01,520.08 L919.87,520.51 L921.80,520.97 L923.72,521.44 L925.56,521.94 L927.27,522.45 L928.77,522.99 L929.99,523.54 L930.86,524.12 L931.32,524.70 L931.31,525.31 L930.81,525.92 L929.91,526.55 L928.67,527.17 L927.16,527.78 L925.45,528.38 L923.61,528.97 L921.71,529.53 L919.83,530.06 L918.01,530.55 L916.26,531.01 L914.58,531.44 L912.95,531.84 L911.38,532.22 L909.85,532.57 L908.37,532.90 L906.92,533.22 L905.51,533.52 L904.13,533.80 L902.76,534.07 L901.42,534.34 L900.09,534.60 L898.77,534.86 L897.45,535.12 L896.13,535.37 L894.80,535.64 L893.45,535.91 L892.10,536.19 L890.72,536.48 L889.32,536.78 L887.91,537.08 L886.49,537.40 L885.05,537.72 L883.60,538.04 L882.14,538.37 L880.67,538.71 L879.19,539.05 L877.71,539.38 L876.21,539.72 L874.72,540.06 L873.22,540.40 L871.72,540.74 L870.21,541.08 L868.71,541.41 L867.21,541.74 L865.71,542.06 L864.22,542.38 L862.73,542.69 L861.24,543.00 L859.76,543.31 L858.28,543.61 L856.80,543.91 L855.33,544.21 L853.86,544.51 L852.39,544.81 L850.93,545.11 L849.47,545.41 L848.02,545.72 L846.57,546.03 L845.12,546.34 L843.67,546.66 L842.23,546.99 L840.79,547.32 L839.36,547.66 L837.92,548.00 L836.49,548.35 L835.05,548.70 L833.62,549.06 L832.17,549.41 L830.72,549.76 L829.26,550.11 L827.80,550.45 L826.31,550.78 L824.82,551.10 L823.31,551.41 L821.78,551.71 L820.24,552.02 L818.71,552.34 L817.21,552.72 L815.73,553.16 L814.31,553.69 L812.95,554.34 L811.66,555.12 L810.46,556.06 L809.38,557.18 L808.47,558.44 L807.87,559.73 L807.71,560.95 L808.08,562.03 L808.92,562.96 L810.13,563.78 L811.61,564.51 L813.26,565.15 L814.99,565.75 L816.70,566.31 L818.35,566.86 L819.94,567.39 L821.48,567.90 L822.98,568.40 L824.43,568.88 L825.85,569.35 L827.24,569.80 L828.61,570.25 L829.95,570.69 L831.29,571.12 L832.62,571.54 L833.95,571.95 L835.29,572.36 L836.63,572.77 L837.99,573.18 L839.38,573.58 L840.77,573.97 L842.19,574.37 L843.62,574.76 L845.06,575.14 L846.52,575.52 L847.98,575.89 L849.45,576.25 L850.93,576.60 L852.41,576.94 L853.90,577.27 L855.39,577.59 L856.88,577.89 L858.37,578.19 L859.86,578.46 L861.34,578.74 L862.82,579.02 L864.30,579.33 L865.77,579.68 L867.24,580.08 L868.70,580.56 L870.17,581.13 L871.63,581.79 L873.05,582.57 L874.20,583.42 L874.82,584.30 L874.65,585.15 L873.78,585.96 L872.43,586.71 L870.81,587.37 L869.16,587.95 L867.58,588.43 L866.08,588.84 L864.63,589.21 L863.20,589.57 L861.77,589.94 L860.33,590.31 L858.89,590.70 L857.45,591.10 L856.00,591.50" stroke="#084a92"/></g>
</g>
<line x1="623.5" y1="281.2" x2="650.0" y2="269.0" stroke="#fff" stroke-width="5" stroke-linecap="butt"/><line x1="623.5" y1="276.5" x2="650.0" y2="264.2" stroke="#000" stroke-width="5" stroke-linecap="butt"/><line x1="623.5" y1="286.0" x2="650.0" y2="273.7" stroke="#000" stroke-width="5" stroke-linecap="butt"/>
<line x1="991.7" y1="281.2" x2="1018.3" y2="269.0" stroke="#fff" stroke-width="5" stroke-linecap="butt"/><line x1="991.7" y1="276.5" x2="1018.3" y2="264.2" stroke="#000" stroke-width="5" stroke-linecap="butt"/><line x1="991.7" y1="286.0" x2="1018.3" y2="273.7" stroke="#000" stroke-width="5" stroke-linecap="butt"/>
<text x="622.0" y="52.6" font-size="46.0" text-anchor="end" >7</text>
<text x="622.0" y="130.1" font-size="46.0" text-anchor="end" >6</text>
<text x="622.0" y="207.7" font-size="46.0" text-anchor="end" >5</text>
<text x="622.0" y="371.5" font-size="46.0" text-anchor="end" >-1</text>
<text x="622.0" y="449.0" font-size="46.0" text-anchor="end" >-2</text>
<text x="622.0" y="526.6" font-size="46.0" text-anchor="end" >-3</text>
<text x="622.0" y="604.1" font-size="46.0" text-anchor="end" >-4</text>
<text x="636.5" y="637.0" font-size="46.0" text-anchor="middle" >0</text>
<text x="728.6" y="637.0" font-size="46.0" text-anchor="middle" >2</text>
<text x="820.8" y="637.0" font-size="46.0" text-anchor="middle" >4</text>
<text x="912.9" y="637.0" font-size="46.0" text-anchor="middle" >6</text>
<text x="1005.0" y="637.0" font-size="46.0" text-anchor="middle" >8</text>
<text x="820.5" y="676.1" font-size="46.6" text-anchor="middle" >DOS (a.u.)</text>
<text x="527.2" y="42.1" font-size="47.0" text-anchor="start" >(b)</text>
<g stroke-width="5.5" stroke-linecap="round">
<line x1="688.5" y1="254.6" x2="745.5" y2="254.6" stroke="#a50026"/>
<line x1="688.5" y1="310.6" x2="745.5" y2="310.6" stroke="#084a92"/>
</g>
<text x="756.2" y="265.4" font-size="41.0" text-anchor="start" >SiO<tspan font-size="27.3" dy="6.8">2</tspan><tspan dy="-6.8"> of m=4</tspan></text>
<text x="756.2" y="321.4" font-size="41.0" text-anchor="start" >SiO<tspan font-size="27.3" dy="6.8">2</tspan><tspan dy="-6.8"> of m=5</tspan></text>
</g></svg>
</body></html>
